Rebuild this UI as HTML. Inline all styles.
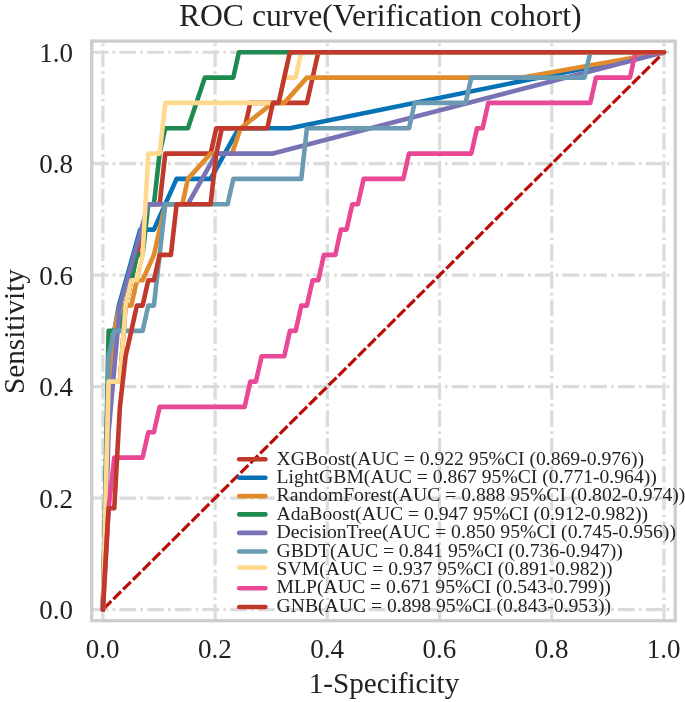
<!DOCTYPE html>
<html lang="en"><head><meta charset="utf-8"><title>ROC curve(Verification cohort)</title>
<style>html,body{margin:0;padding:0;background:#fff;width:685px;height:702px;overflow:hidden}svg{display:block}text{font-family:"Liberation Serif","Times New Roman",Times,serif;fill:#222}</style></head><body>
<svg width="685" height="702" viewBox="0 0 685 702">
<rect width="685" height="702" fill="#fff"/>
<defs><clipPath id="ax"><rect x="91.70" y="41.10" width="583.50" height="579.60"/></clipPath></defs>
<g stroke="#dbdbdb" stroke-width="3.2" stroke-dasharray="16.73 4.18 2.61 4.18" fill="none">
<line x1="102.92" y1="621.00" x2="102.92" y2="41.10"/>
<line x1="91.70" y1="609.55" x2="675.20" y2="609.55"/>
<line x1="215.13" y1="621.00" x2="215.13" y2="41.10"/>
<line x1="91.70" y1="498.09" x2="675.20" y2="498.09"/>
<line x1="327.34" y1="621.00" x2="327.34" y2="41.10"/>
<line x1="91.70" y1="386.63" x2="675.20" y2="386.63"/>
<line x1="439.56" y1="621.00" x2="439.56" y2="41.10"/>
<line x1="91.70" y1="275.17" x2="675.20" y2="275.17"/>
<line x1="551.77" y1="621.00" x2="551.77" y2="41.10"/>
<line x1="91.70" y1="163.71" x2="675.20" y2="163.71"/>
<line x1="663.98" y1="621.00" x2="663.98" y2="41.10"/>
<line x1="91.70" y1="52.25" x2="675.20" y2="52.25"/>
</g>
<g clip-path="url(#ax)" fill="none" stroke-width="4.60" stroke-linejoin="round" stroke-linecap="round">
<line x1="102.92" y1="609.55" x2="663.98" y2="52.25" stroke="#bb0c08" stroke-width="3.2" stroke-dasharray="10.9 2.9" stroke-dashoffset="-0.9" stroke-linecap="butt"/>
<polyline stroke="#c0392b" points="102.9,609.6 108.6,381.6 119.9,381.6 125.6,305.6 131.3,280.2 136.9,254.9 148.3,204.2 159.6,204.2 165.3,153.6 210.6,153.6 216.3,128.2 244.6,128.2 250.3,102.9 306.9,102.9 318.3,52.2 664.0,52.2"/>
<polyline stroke="#0673b7" points="102.9,609.6 108.6,406.9 114.3,330.9 118.9,305.6 140.2,229.6 153.9,229.6 176.6,178.9 210.6,178.9 238.9,128.2 289.9,128.2 664.0,52.2"/>
<polyline stroke="#e28b2d" points="102.9,609.6 108.6,406.9 114.3,330.9 119.9,305.6 131.3,305.6 136.9,280.2 142.6,280.2 153.9,254.9 159.6,229.6 165.3,204.2 182.3,204.2 187.9,178.9 210.6,153.6 232.1,153.6 240.6,128.2 272.9,102.9 284.3,102.9 306.9,77.6 522.3,77.6 664.0,52.2"/>
<polyline stroke="#1f8a50" points="102.9,609.6 108.6,330.9 119.9,330.9 125.6,305.6 131.3,280.2 136.9,254.9 142.6,254.9 148.3,204.2 153.9,204.2 159.6,153.6 165.3,128.2 187.9,128.2 204.9,77.6 233.3,77.6 238.9,52.2 664.0,52.2"/>
<polyline stroke="#7873b5" points="102.9,609.6 108.6,432.2 119.9,305.6 148.3,204.2 187.9,204.2 216.3,153.6 272.9,153.6 664.0,52.2"/>
<polyline stroke="#6a9bb2" points="102.9,609.6 108.6,356.2 114.3,330.9 142.6,330.9 148.3,305.6 153.9,305.6 159.6,254.9 165.3,204.2 227.6,204.2 233.3,178.9 301.3,178.9 306.9,128.2 409.0,128.2 414.6,102.9 465.6,102.9 471.3,77.6 584.6,77.6 590.3,52.2 664.0,52.2"/>
<polyline stroke="#fed98e" points="102.9,609.6 108.6,381.6 119.9,381.6 125.6,305.6 131.3,280.2 136.9,280.2 142.6,254.9 148.3,153.6 159.6,153.6 165.3,102.9 278.6,102.9 284.3,77.6 295.6,77.6 301.3,52.2 664.0,52.2"/>
<polyline stroke="#e94897" points="102.9,609.6 108.6,508.2 114.3,457.6 142.6,457.6 148.3,432.2 153.9,432.2 159.6,406.9 244.6,406.9 250.3,381.6 255.9,381.6 261.6,356.2 284.3,356.2 289.9,330.9 295.6,330.9 301.3,305.6 306.9,305.6 312.6,280.2 318.3,280.2 323.9,254.9 335.3,254.9 340.9,229.6 346.6,229.6 352.3,204.2 357.9,204.2 363.6,178.9 403.3,178.9 409.0,153.6 471.3,153.6 477.0,128.2 482.6,128.2 488.3,102.9 590.3,102.9 596.0,77.6 630.0,77.6 635.6,52.2 664.0,52.2"/>
<polyline stroke="#c0392b" points="102.9,609.6 108.6,508.2 114.3,508.2 119.9,406.9 125.6,356.2 131.3,330.9 136.9,305.6 142.6,305.6 148.3,280.2 153.9,280.2 159.6,254.9 170.9,254.9 176.6,204.2 210.6,204.2 216.3,153.6 221.9,128.2 267.3,128.2 272.9,102.9 278.6,102.9 289.9,52.2 664.0,52.2"/>
</g>
<rect x="91.70" y="41.10" width="583.50" height="579.60" fill="none" stroke="#cdcdcd" stroke-width="3.3"/>
<g fill="none" stroke-width="4.60" stroke-linecap="round">
<line x1="239.2" y1="459.2" x2="265.4" y2="459.2" stroke="#c0392b"/>
<line x1="239.2" y1="477.7" x2="265.4" y2="477.7" stroke="#0673b7"/>
<line x1="239.2" y1="496.1" x2="265.4" y2="496.1" stroke="#e28b2d"/>
<line x1="239.2" y1="514.4" x2="265.4" y2="514.4" stroke="#1f8a50"/>
<line x1="239.2" y1="532.9" x2="265.4" y2="532.9" stroke="#7873b5"/>
<line x1="239.2" y1="551.5" x2="265.4" y2="551.5" stroke="#6a9bb2"/>
<line x1="239.2" y1="567.5" x2="265.4" y2="567.5" stroke="#fed98e"/>
<line x1="239.2" y1="588.2" x2="265.4" y2="588.2" stroke="#e94897"/>
<line x1="239.2" y1="607.0" x2="265.4" y2="607.0" stroke="#c0392b"/>
</g>
<g font-size="19.5">
<text x="276.6" y="464.7" textLength="367.4" lengthAdjust="spacingAndGlyphs">XGBoost(AUC = 0.922 95%CI (0.869-0.976))</text>
<text x="276.6" y="483.1" textLength="380.2" lengthAdjust="spacingAndGlyphs">LightGBM(AUC = 0.867 95%CI (0.771-0.964))</text>
<text x="276.6" y="501.4" textLength="408.8" lengthAdjust="spacingAndGlyphs">RandomForest(AUC = 0.888 95%CI (0.802-0.974))</text>
<text x="276.6" y="519.8" textLength="371.5" lengthAdjust="spacingAndGlyphs">AdaBoost(AUC = 0.947 95%CI (0.912-0.982))</text>
<text x="276.6" y="538.1" textLength="399.4" lengthAdjust="spacingAndGlyphs">DecisionTree(AUC = 0.850 95%CI (0.745-0.956))</text>
<text x="276.6" y="556.5" textLength="346.3" lengthAdjust="spacingAndGlyphs">GBDT(AUC = 0.841 95%CI (0.736-0.947))</text>
<text x="276.6" y="574.8" textLength="335.9" lengthAdjust="spacingAndGlyphs">SVM(AUC = 0.937 95%CI (0.891-0.982))</text>
<text x="276.6" y="593.1" textLength="334.2" lengthAdjust="spacingAndGlyphs">MLP(AUC = 0.671 95%CI (0.543-0.799))</text>
<text x="276.6" y="611.5" textLength="334.5" lengthAdjust="spacingAndGlyphs">GNB(AUC = 0.898 95%CI (0.843-0.953))</text>
</g>
<g font-size="27" text-anchor="middle">
<text x="102.6" y="657.7">0.0</text>
<text x="214.8" y="657.7">0.2</text>
<text x="327.0" y="657.7">0.4</text>
<text x="439.3" y="657.7">0.6</text>
<text x="551.5" y="657.7">0.8</text>
<text x="663.7" y="657.7">1.0</text>
</g>
<g font-size="27" text-anchor="end">
<text x="72.9" y="619.1">0.0</text>
<text x="72.9" y="507.6">0.2</text>
<text x="72.9" y="396.1">0.4</text>
<text x="72.9" y="284.7">0.6</text>
<text x="72.9" y="173.2">0.8</text>
<text x="72.9" y="61.7">1.0</text>
</g>
<text x="178.9" y="25.6" font-size="31.4" textLength="402.6" lengthAdjust="spacingAndGlyphs">ROC curve(Verification cohort)</text>
<text x="384" y="693.3" font-size="29.17" text-anchor="middle">1-Specificity</text>
<text transform="translate(24.2,331.5) rotate(-90)" font-size="29.17" text-anchor="middle">Sensitivity</text>
</svg></body></html>
